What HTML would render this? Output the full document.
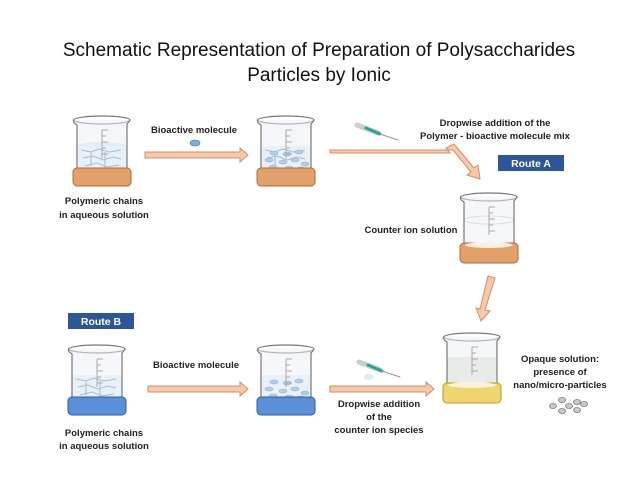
<!DOCTYPE html>
<html><head><meta charset="utf-8"><style>
body{margin:0;background:#fff}
svg{display:block}
text{font-family:"Liberation Sans",sans-serif;font-weight:bold;fill:#222;font-size:9.5px}
</style></head><body>
<svg width="638" height="478" viewBox="0 0 638 478" xmlns="http://www.w3.org/2000/svg">
<defs>
<g id="bk">
 <ellipse cx="27" cy="4" rx="28" ry="4" fill="none" stroke="#777" stroke-width="1.2"/>
 <path d="M-1 3 Q-3 6 2 9 L2 56 L52 56 L52 8 Q54 6 55 4" fill="rgba(235,240,245,0.5)" stroke="#777" stroke-width="1.2"/>
 <path d="M27 14 h6 M27 20 h4 M27 26 h6 M27 32 h4 M27 38 h6 M27 14 v28" stroke="#aaa" fill="none"/>
</g>
</defs>
<text x="319" y="56" text-anchor="middle" style="font-weight:normal;font-size:19px;fill:#111">Schematic Representation of Preparation of Polysaccharides</text>
<text x="319" y="81" text-anchor="middle" style="font-weight:normal;font-size:19px;fill:#111">Particles by Ionic</text>

<!-- beaker 1 -->
<g transform="translate(75,116)">
 <ellipse cx="27" cy="30" rx="25" ry="4" fill="#dce8f4"/>
 <rect x="2" y="30" width="50" height="26" fill="#e8f0f8"/>
 <path d="M6 34 l10 2 l8 -3 l10 3 l12 -2 M8 42 l10 -2 l10 4 l10 -3 l8 2 M10 50 l12 -3 l10 4 l12 -2 M16 36 v14 M30 36 v18" stroke="#5a8ac4" fill="none"/>
 <use href="#bk"/>
 <rect x="-2" y="52" width="58" height="18" rx="4" fill="#e2a06c" stroke="#b06a3a"/>
</g>
<!-- beaker 2 -->
<g transform="translate(259,116)">
 <rect x="2" y="30" width="50" height="26" fill="#e8f0f8"/>
 <path d="M6 34 l10 2 l8 -3 l10 3 l12 -2 M8 42 l10 -2 l10 4 l10 -3 l8 2 M16 36 v14" stroke="#5a8ac4" fill="none"/>
 <g fill="#7aaee0" stroke="#3c6ea8" stroke-width="0.6">
 <ellipse cx="15" cy="37" rx="4" ry="2"/><ellipse cx="28" cy="38" rx="4" ry="2"/><ellipse cx="40" cy="36" rx="4" ry="2"/>
 <ellipse cx="10" cy="44" rx="4" ry="2"/><ellipse cx="24" cy="46" rx="4" ry="2"/><ellipse cx="36" cy="44" rx="4" ry="2"/><ellipse cx="46" cy="48" rx="4" ry="2"/>
 <ellipse cx="14" cy="51" rx="4" ry="2"/><ellipse cx="30" cy="52" rx="4" ry="2"/><ellipse cx="42" cy="53" rx="4" ry="2"/></g>
 <use href="#bk"/>
 <rect x="-2" y="52" width="58" height="18" rx="4" fill="#e2a06c" stroke="#b06a3a"/>
</g>
<!-- beaker 3 -->
<g transform="translate(462,193)">
 <ellipse cx="27" cy="27" rx="25" ry="4" fill="none" stroke="#ccc"/>
 <use href="#bk"/>
 <rect x="-2" y="50" width="58" height="20" rx="4" fill="#e2a06c" stroke="#b06a3a"/>
 <ellipse cx="27" cy="52" rx="24" ry="3" fill="#fbeee4"/>
</g>
<!-- beaker 4 -->
<g transform="translate(445,333)">
 <rect x="2" y="24" width="50" height="32" fill="#e6e6e0"/>
 <use href="#bk"/>
 <rect x="-2" y="50" width="58" height="20" rx="4" fill="#efd670" stroke="#b89a2a"/>
 <ellipse cx="27" cy="52" rx="24" ry="3" fill="#fbf3d8"/>
</g>
<!-- beaker 5 -->
<g transform="translate(70,345)">
 <rect x="2" y="30" width="50" height="26" fill="#e8f0f8"/>
 <path d="M6 34 l10 2 l8 -3 l10 3 l12 -2 M8 42 l10 -2 l10 4 l10 -3 l8 2 M10 50 l12 -3 l10 4 l12 -2 M16 36 v14 M30 36 v18" stroke="#5a8ac4" fill="none"/>
 <use href="#bk"/>
 <rect x="-2" y="52" width="58" height="18" rx="4" fill="#5b8fd6" stroke="#2d5ea8"/>
</g>
<!-- beaker 6 -->
<g transform="translate(259,345)">
 <rect x="2" y="30" width="50" height="26" fill="#e8f0f8"/>
 <g fill="#7aaee0" stroke="#3c6ea8" stroke-width="0.6">
 <ellipse cx="15" cy="37" rx="4" ry="2"/><ellipse cx="28" cy="38" rx="4" ry="2"/><ellipse cx="40" cy="36" rx="4" ry="2"/>
 <ellipse cx="10" cy="44" rx="4" ry="2"/><ellipse cx="24" cy="46" rx="4" ry="2"/><ellipse cx="36" cy="44" rx="4" ry="2"/><ellipse cx="46" cy="48" rx="4" ry="2"/>
 <ellipse cx="14" cy="51" rx="4" ry="2"/><ellipse cx="30" cy="52" rx="4" ry="2"/><ellipse cx="42" cy="53" rx="4" ry="2"/></g>
 <use href="#bk"/>
 <rect x="-2" y="52" width="58" height="18" rx="4" fill="#5b8fd6" stroke="#2d5ea8"/>
</g>

<!-- arrows -->
<g fill="#f8c8a8" stroke="#c89070" stroke-width="1">
 <path d="M145 152 h95 v-4 l8 7 l-8 7 v-4 h-95 z"/>
 <path d="M330 153 h120 l-4 -5 l8 -4 l20 24 l4 -3 l2 14 l-13 -4 l4 -3 l-18 -22 h-123 z"/>
 <path d="M488 276 l7 2 l-10 32 l5 1 l-9 10 l-5 -13 l4 1 z"/>
 <path d="M148 386 h92 v-4 l8 7 l-8 7 v-4 h-92 z"/>
 <path d="M330 386 h96 v-4 l8 7 l-8 7 v-4 h-96 z"/>
</g>
<ellipse cx="195" cy="143" rx="5" ry="3" fill="#7aaee0" stroke="#3c6ea8" stroke-width="0.6"/>
<ellipse cx="369" cy="377" rx="5" ry="3" fill="#e4eaf2"/>

<!-- syringes -->
<g stroke-linecap="round">
 <line x1="357" y1="125" x2="378" y2="133" stroke="#ccc" stroke-width="5"/>
 <line x1="366" y1="128" x2="380" y2="134" stroke="#2aa39a" stroke-width="3"/>
 <line x1="380" y1="134" x2="398" y2="140" stroke="#999" stroke-width="1"/>
 <line x1="359" y1="362" x2="380" y2="370" stroke="#ccc" stroke-width="5"/>
 <line x1="368" y1="365" x2="382" y2="371" stroke="#2aa39a" stroke-width="3"/>
 <line x1="382" y1="371" x2="400" y2="377" stroke="#999" stroke-width="1"/>
</g>

<!-- route labels -->
<rect x="498" y="155" width="66" height="16" fill="#2e5597"/>
<text x="531" y="167" text-anchor="middle" style="fill:#fff;font-size:10.5px">Route A</text>
<rect x="68" y="313" width="66" height="16" fill="#2e5597"/>
<text x="101" y="325" text-anchor="middle" style="fill:#fff;font-size:10.5px">Route B</text>

<!-- texts -->
<text x="194" y="133" text-anchor="middle">Bioactive molecule</text>
<text x="104" y="204" text-anchor="middle">Polymeric chains</text>
<text x="104" y="218" text-anchor="middle">in aqueous solution</text>
<text x="495" y="126" text-anchor="middle">Dropwise addition of the</text>
<text x="495" y="139" text-anchor="middle">Polymer - bioactive molecule mix</text>
<text x="411" y="233" text-anchor="middle">Counter ion solution</text>
<text x="196" y="368" text-anchor="middle">Bioactive molecule</text>
<text x="104" y="436" text-anchor="middle">Polymeric chains</text>
<text x="104" y="449" text-anchor="middle">in aqueous solution</text>
<text x="379" y="407" text-anchor="middle">Dropwise addition</text>
<text x="379" y="420" text-anchor="middle">of the</text>
<text x="379" y="433" text-anchor="middle">counter ion species</text>
<text x="560" y="362" text-anchor="middle">Opaque solution:</text>
<text x="560" y="375" text-anchor="middle">presence of</text>
<text x="560" y="388" text-anchor="middle">nano/micro-particles</text>
<g fill="#c8c8c8" stroke="#777" stroke-width="0.8">
 <ellipse cx="562" cy="400" rx="3.5" ry="2.5"/><ellipse cx="577" cy="402" rx="3.5" ry="2.5"/>
 <ellipse cx="553" cy="406" rx="3.5" ry="2.5"/><ellipse cx="569" cy="406" rx="3.5" ry="2.5"/><ellipse cx="584" cy="404" rx="3.5" ry="2.5"/>
 <ellipse cx="562" cy="411" rx="3.5" ry="2.5"/><ellipse cx="577" cy="410" rx="3.5" ry="2.5"/>
</g>
</svg>
</body></html>
